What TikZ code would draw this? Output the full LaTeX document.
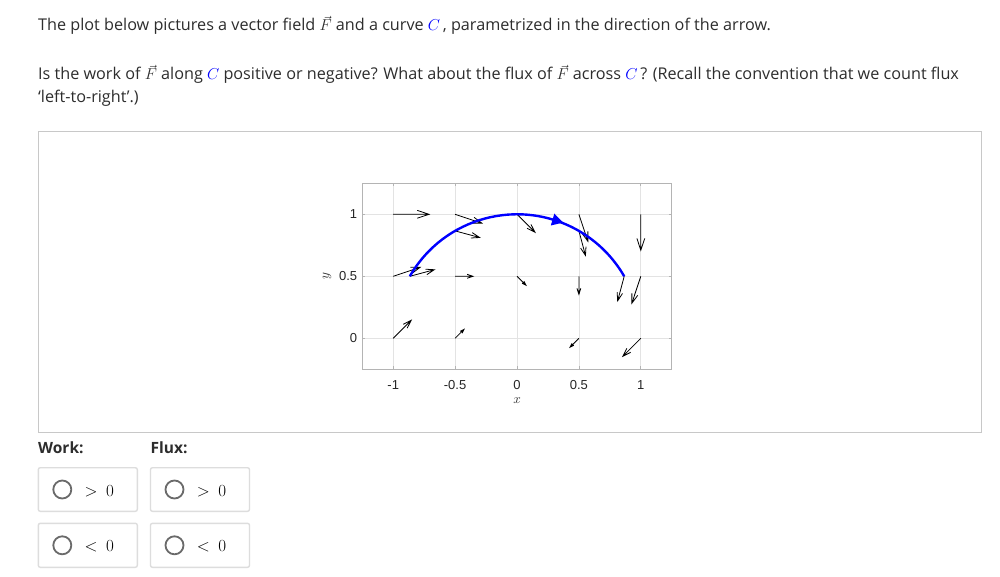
\RequirePackage{fix-cm}
\documentclass[tikz,border=0pt]{standalone}
\usepackage{fontspec}
\setmainfont{Open Sans}
\newfontfamily\helv{Liberation Sans}
\definecolor{txt}{HTML}{2D2D2D}
\definecolor{framec}{HTML}{C8C8C8}
\definecolor{boxc}{HTML}{DDDDDD}
\definecolor{radioc}{HTML}{6A6A6A}
\definecolor{gridc}{HTML}{E3E3E3}
\definecolor{axc}{HTML}{B4B4B4}
\definecolor{tickc}{HTML}{262626}
\definecolor{curveblue}{RGB}{0,0,255}
\newcommand\mj[2][15.8]{{\fontsize{#1}{#1}\selectfont$#2$}}
\tikzset{
  para/.style={inner sep=0pt, anchor=base west, text=txt, font=\fontsize{16.2}{19}\selectfont},
  lbl/.style={inner sep=0pt, anchor=base west, text=txt, font=\fontsize{15.5}{18}\selectfont\bfseries},
  optbox/.style={draw=boxc, line width=1.4pt, rounded corners=2pt},
  radio/.style={draw=radioc, line width=1.8pt},
  opttext/.style={inner sep=0pt, anchor=base west, text=black},
  gridline/.style={draw=gridc, line width=0.8pt},
  axline/.style={draw=axc, line width=0.8pt},
  ticklab/.style={inner sep=0pt, text=tickc, font=\fontsize{13}{15}\helv},
  qarr/.style={draw=black, line width=0.8pt},
}
\newcommand\qarrow[2]{%
  \pgfmathsetmacro\qu{0.145*((#2)-(#1))}%
  \pgfmathsetmacro\qv{0.145*(-(#1)-(#2))}%
  \pgfmathsetmacro\qtx{(#1)+\qu}%
  \pgfmathsetmacro\qty{(#2)+\qv}%
  \pgfmathsetmacro\qax{\qtx-0.33*(\qu+0.33*\qv)}%
  \pgfmathsetmacro\qay{\qty-0.33*(\qv-0.33*\qu)}%
  \pgfmathsetmacro\qbx{\qtx-0.33*(\qu-0.33*\qv)}%
  \pgfmathsetmacro\qby{\qty-0.33*(\qv+0.33*\qu)}%
  \draw[qarr] (#1,#2) -- (\qtx,\qty) (\qax,\qay) -- (\qtx,\qty) -- (\qbx,\qby);%
}
\begin{document}
\begin{tikzpicture}[x=1pt,y=-1pt]
\useasboundingbox[fill=white] (0,0) rectangle (1000,577);

% question text
\node[para] (l1) at (38,31) {The plot below pictures a vector field \mj{\vec{F}} and a curve \mj{\color{curveblue}C}\,, parametrized in the direction of the arrow.};
\node[para] (l2) at (38,80) {Is the work of \mj{\vec{F}} along \mj{\color{curveblue}C} positive or negative? What about the flux of \mj{\vec{F}} across \mj{\color{curveblue}C}\,? (Recall the convention that we count flux};
\node[para] (l3) at (38,103) {‘left-to-right’.)};

% plot frame
\draw[draw=framec, line width=1pt] (38.3,131.7) rectangle (981.3,432.3);

\begin{scope}[shift={(517pt,-338.3pt)}, x=123.8pt, y=124pt]
  \foreach \gx in {-1,-0.5,0,0.5,1} \draw[gridline] (\gx,-0.25) -- (\gx,1.25);
  \foreach \gy in {0,0.5,1} \draw[gridline] (-1.25,\gy) -- (1.25,\gy);
  \draw[axline] (-1.25,-0.25) rectangle (1.25,1.25);
  \foreach \gx in {-1,-0.5,0,0.5,1} {
    \draw[axline] (\gx,-0.25) -- (\gx,-0.225);
    \draw[axline] (\gx,1.25) -- (\gx,1.225);
  }
  \foreach \gy in {0,0.5,1} {
    \draw[axline] (-1.25,\gy) -- (-1.225,\gy);
    \draw[axline] (1.25,\gy) -- (1.225,\gy);
  }
  \foreach \gx/\t in {-1/-1,-0.5/-0.5,0/0,0.5/0.5,1/1}
    \node[ticklab] (xt\gx) at (\gx,-0.377) {\t};
  \foreach \gy/\t in {0/0,0.5/0.5,1/1}
    \node[ticklab, anchor=east] (yt\gy) at (-1.29,\gy) {\t};
  \node[ticklab] (xlab) at (0,-0.5) {\mj[13.5]{x}};
  \node[ticklab, rotate=90] (ylab) at (-1.535,0.5) {\mj[13.5]{y}};

  % vector field F = (y-x, -x-y)
  \foreach \px in {-1,-0.5,0.5,1} {
    \foreach \py in {0,0.5,1} { \qarrow{\px}{\py} }
  }
  \qarrow{0}{0.5}
  \qarrow{0}{1}
  \qarrow{-0.8660}{0.5}
  \qarrow{-0.5}{0.8660}
  \qarrow{0.5}{0.8660}
  \qarrow{0.8660}{0.5}

  % curve C
  \draw[draw=curveblue, line width=2.4pt] (150:1) arc[start angle=150, end angle=30, radius=1];
  \fill[curveblue] (68.2:1.005) -- (73.3:1.05) -- (73.3:0.95) -- cycle;
\end{scope}

% answer options
\node[lbl] (work) at (38,453.3) {Work:};
\node[lbl] (flux) at (150.5,453.3) {Flux:};

\draw[optbox] (38.3,467.7) rectangle (137.3,511.3);
\draw[optbox] (150.5,467.7) rectangle (249.5,511.3);
\draw[optbox] (38.3,523.3) rectangle (137.3,567.3);
\draw[optbox] (150.5,523.3) rectangle (249.5,567.3);

\draw[radio] (62.3,489.5) circle (9);
\draw[radio] (174.5,489.5) circle (9);
\draw[radio] (62.3,545.3) circle (9);
\draw[radio] (174.5,545.3) circle (9);

\node[opttext] (wg) at (84.5,496) {\mj[17]{>}\hspace{8.5pt}\mj[17]{0}};
\node[opttext] (fg) at (196.7,496) {\mj[17]{>}\hspace{8.5pt}\mj[17]{0}};
\node[opttext] (wl) at (84.5,551.8) {\mj[17]{<}\hspace{8.5pt}\mj[17]{0}};
\node[opttext] (fl) at (196.7,551.8) {\mj[17]{<}\hspace{8.5pt}\mj[17]{0}};
\end{tikzpicture}
\end{document}
